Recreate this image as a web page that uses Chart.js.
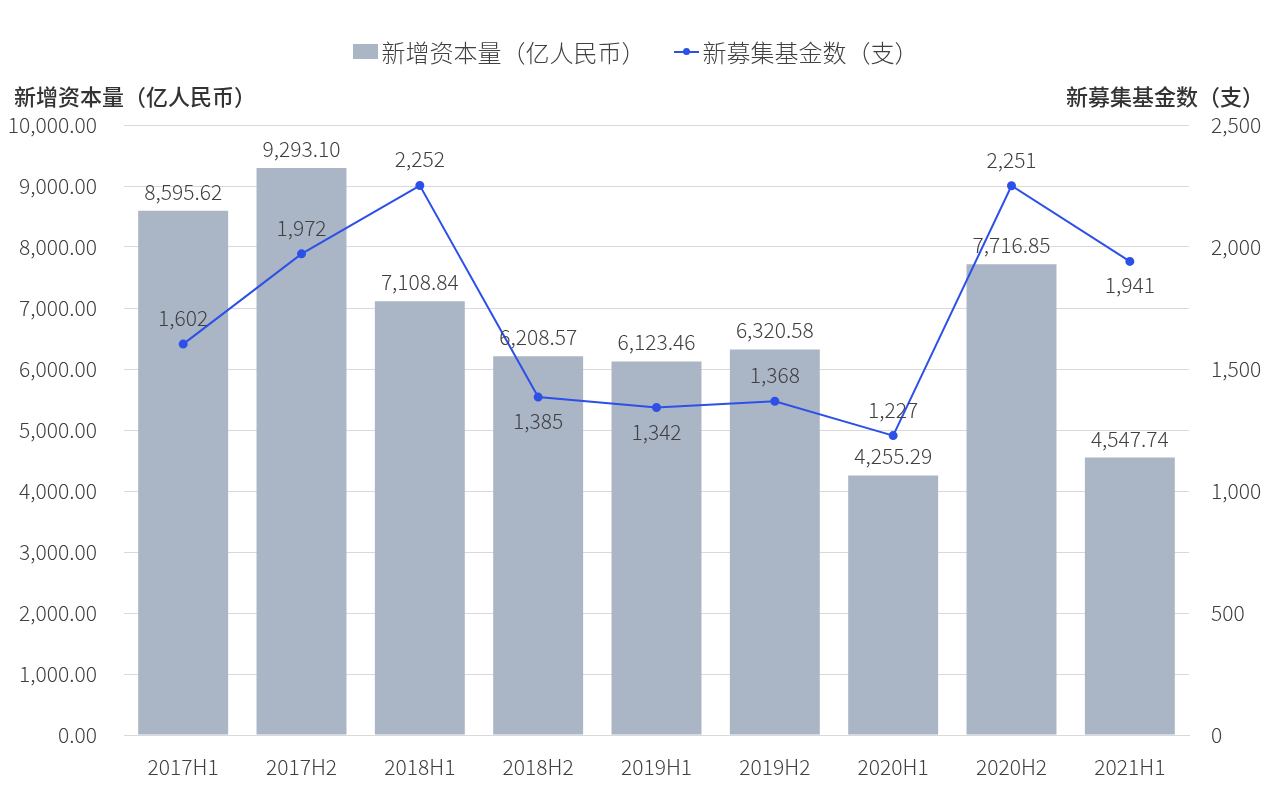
<!DOCTYPE html>
<html>
<head>
<meta charset="utf-8">
<script src="https://cdn.jsdelivr.net/npm/chart.js@4/dist/chart.umd.min.js"></script>
<style>
    body { margin: 0; background: #fff; font-family: "Noto Sans CJK SC", sans-serif; }
    #wrap { position: relative; width: 1271px; height: 811px; }
    #legend { position: absolute; top: 34px; left: 0; width: 1271px; display: flex; justify-content: center; align-items: center; font-size: 24px; font-weight: 300; color: #404040; }
    .item { display: flex; align-items: center; margin: 0 14px; }
    .box { width: 25px; height: 15px; background: #aab5c6; margin-right: 4px; }
    .lineicon { position: relative; width: 25px; height: 15px; margin-right: 4px; }
    .lineicon:before { content: ''; position: absolute; left: 0; right: 0; top: 7px; height: 2px; background: #2c50e8; }
    .lineicon:after { content: ''; position: absolute; left: 9px; top: 4px; width: 7px; height: 7px; border-radius: 50%; background: #2c50e8; }
</style>
</head>
<body>
<div id="wrap">
    <canvas id="chart" width="1271" height="811"></canvas>
    <div id="legend">
        <div class="item"><span class="box"></span>新增资本量（亿人民币）</div>
        <div class="item"><span class="lineicon"></span>新募集基金数（支）</div>
    </div>
</div>
<script>
const categories = ['2017H1', '2017H2', '2018H1', '2018H2', '2019H1', '2019H2', '2020H1', '2020H2', '2021H1'];
const capitalValues = [8595.62, 9293.10, 7108.84, 6208.57, 6123.46, 6320.58, 4255.29, 7716.85, 4547.74];
const fundCounts = [1602, 1972, 2252, 1385, 1342, 1368, 1227, 2251, 1941];
const fundLabelSide = ['above', 'above', 'above', 'below', 'below', 'above', 'above', 'above', 'below'];

const FONT = '"Noto Sans CJK SC", sans-serif';
const TEXT = '#404040';
const BAR_COLOR = '#aab5c6';
const LINE_COLOR = '#2c50e8';

function fmt(v, d) {
    return v.toLocaleString('en-US', { minimumFractionDigits: d, maximumFractionDigits: d });
}

const labelPlugin = {
    id: 'labels',
    afterDatasetsDraw(chart) {
        const ctx = chart.ctx;
        ctx.save();
        ctx.font = '300 21px ' + FONT;
        ctx.fillStyle = TEXT;
        ctx.textAlign = 'center';
        ctx.textBaseline = 'middle';
        chart.getDatasetMeta(1).data.forEach((bar, i) => {
            ctx.fillText(fmt(capitalValues[i], 2), bar.x, bar.y - 19);
        });
        chart.getDatasetMeta(0).data.forEach((pt, i) => {
            const dy = fundLabelSide[i] === 'above' ? -26 : 24;
            ctx.fillText(fmt(fundCounts[i], 0), pt.x, pt.y + dy);
        });
        // axis titles
        ctx.font = '500 22px ' + FONT;
        ctx.fillStyle = '#333';
        ctx.textAlign = 'left';
        ctx.fillText('新增资本量（亿人民币）', 14, 97);
        ctx.textAlign = 'right';
        ctx.fillText('新募集基金数（支）', 1264, 97);
        ctx.restore();
    }
};

new Chart(document.getElementById('chart'), {
    data: {
        labels: categories,
        datasets: [
            {
                type: 'line',
                label: '新募集基金数（支）',
                data: fundCounts,
                yAxisID: 'y2',
                borderColor: LINE_COLOR,
                backgroundColor: LINE_COLOR,
                borderWidth: 2,
                pointRadius: 3.5,
                tension: 0,
                order: 0
            },
            {
                type: 'bar',
                label: '新增资本量（亿人民币）',
                data: capitalValues,
                yAxisID: 'y',
                backgroundColor: BAR_COLOR,
                categoryPercentage: 1,
                barPercentage: 0.76,
                order: 1
            }
        ]
    },
    options: {
        responsive: false,
        animation: false,
        layout: { padding: { top: 125, left: 0, right: 0, bottom: 0 } },
        plugins: {
            legend: { display: false },
            tooltip: { enabled: false }
        },
        scales: {
            x: {
                grid: { display: false, drawTicks: false },
                border: { color: '#d9d9d9' },
                ticks: { color: TEXT, font: { family: FONT, size: 21, weight: 300 }, padding: 19, maxRotation: 0 },
                afterFit(scale) { scale.height = 76; }
            },
            y: {
                position: 'left',
                min: 0,
                max: 10000,
                ticks: {
                    stepSize: 1000,
                    color: TEXT,
                    font: { family: FONT, size: 21, weight: 300 },
                    padding: 27,
                    callback: v => fmt(v, 2)
                },
                grid: { color: '#d9d9d9', drawTicks: false },
                border: { display: false },
                afterFit(scale) { scale.width = 124; }
            },
            y2: {
                position: 'right',
                min: 0,
                max: 2500,
                ticks: {
                    stepSize: 500,
                    color: TEXT,
                    font: { family: FONT, size: 21, weight: 300 },
                    padding: 22,
                    callback: v => fmt(v, 0)
                },
                grid: { display: false, drawTicks: false },
                border: { display: false },
                afterFit(scale) { scale.width = 82; }
            }
        }
    },
    plugins: [labelPlugin]
});
</script>
</body>
</html>
